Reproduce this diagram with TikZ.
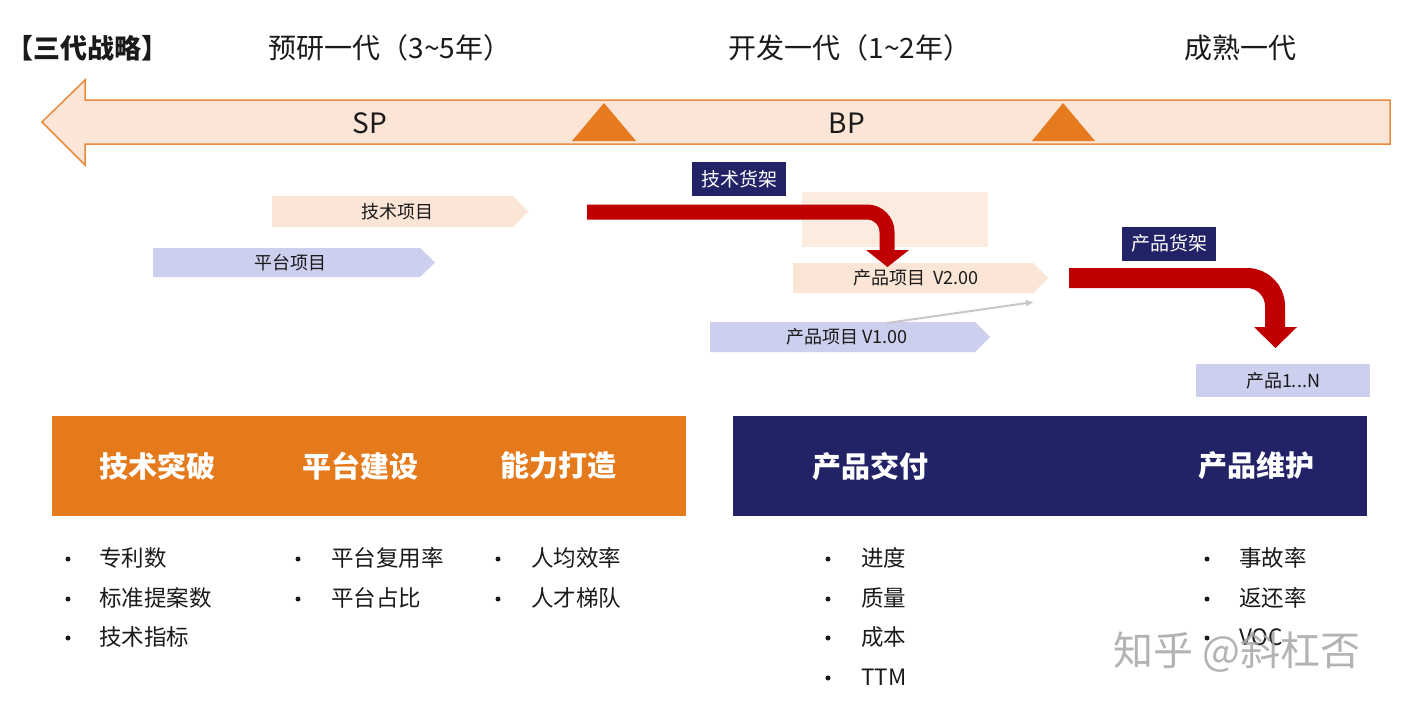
\documentclass[tikz,border=0pt]{standalone}
\usepackage{fontspec}
\setmainfont{Noto Sans CJK SC}
\usetikzlibrary{arrows.meta}
\definecolor{peach}{HTML}{FBE5D6}
\definecolor{peachlt}{HTML}{FCEBDF}
\definecolor{lav}{HTML}{CDCFEE}
\definecolor{navy}{HTML}{222266}
\definecolor{orangeband}{HTML}{E57A1C}
\definecolor{tri}{HTML}{E67A1E}
\definecolor{arrowedge}{HTML}{EA8A3C}
\definecolor{redarr}{HTML}{C00000}
\definecolor{txt}{HTML}{1A1A1A}
\newcommand{\fs}[1]{\fontsize{#1}{#1}\selectfont}
\tikzset{
  lbl/.style={inner sep=0pt, text=txt},
  toptitle/.style={lbl, font=\fs{28}},
  bigtxt/.style={lbl, font=\fs{28}},
  smalltxt/.style={lbl, font=\fs{18}},
  tagbox/.style={fill=navy, text=white, font=\fs{19}, inner xsep=9pt, inner ysep=5pt, minimum height=34pt},
  bandtxt/.style={inner sep=0pt, text=white, font=\bfseries\fs{29}},
  item/.style={lbl, anchor=west, font=\fs{22.5}},
  dot/.style={circle, fill=txt, inner sep=0pt, minimum size=5pt},
  redshaft/.style={draw=redarr, line cap=butt},
  redhead/.style={fill=redarr},
}
\begin{document}
\begin{tikzpicture}[x=1pt,y=-1pt]
\useasboundingbox (0,0) rectangle (1405,709);
\fill[white] (0,0) rectangle (1405,709);

% titles
\node[lbl, font=\bfseries\fs{27}, anchor=west] (title) at (6,48) {【三代战略】};
\node[toptitle] (g1) at (390,48) {预研一代（3\textasciitilde5年）};
\node[toptitle] (g2) at (850,48) {开发一代（1\textasciitilde2年）};
\node[toptitle] (g3) at (1240,48) {成熟一代};

% big timeline arrow
\draw[draw=arrowedge, fill=peach, line width=1.5pt, line join=miter]
  (42,122) -- (85,80) -- (85,100) -- (1390,100) -- (1390,144) -- (85,144) -- (85,165) -- cycle;
\fill[tri] (572,141) -- (636,141) -- (604,103) -- cycle;
\fill[tri] (1032,141) -- (1095,141) -- (1063,103) -- cycle;
\node[bigtxt] (sp) at (370,123) {SP};
\node[bigtxt] (bp) at (847,123) {BP};

% translucent box behind arrow
\fill[peachlt] (802,192) rectangle (988,247);

% project chevrons
\fill[peach] (272,196) -- (513,196) -- (528,211.5) -- (513,227) -- (272,227) -- cycle;
\node[smalltxt] (jsxm) at (397,211.5) {技术项目};
\fill[lav] (153,248) -- (420,248) -- (435,262.5) -- (420,277) -- (153,277) -- cycle;
\node[smalltxt] (ptxm) at (290,262.5) {平台项目};
\fill[peach] (793,263) -- (1033,263) -- (1048,278) -- (1033,293) -- (793,293) -- cycle;
\node[smalltxt] (v2) at (916,278) {产品项目\ \ V2.00};
\fill[lav] (710,322) -- (975,322) -- (990,337) -- (975,352) -- (710,352) -- cycle;
\node[smalltxt] (v1) at (847,337) {产品项目 V1.00};
\fill[lav] (1196,364) rectangle (1370,397);
\node[smalltxt] (pn) at (1283,380.5) {产品1...N};

% shelves
\node[tagbox] (jshj) at (739,179) {技术货架};
\node[tagbox] (cphj) at (1169,243.5) {产品货架};

% red arrows
\coordinate (r1s) at (587,212);
\coordinate (r1c) at (887,212);
\coordinate (r1e) at (887,251);
\draw[redshaft, line width=15pt, rounded corners=20pt] (r1s) -- (r1c) -- (r1e);
\fill[redhead] (866,250) -- (909,250) -- (887.5,267) -- cycle;

\coordinate (r2s) at (1069,278);
\coordinate (r2c) at (1275,278);
\coordinate (r2e) at (1275,329);
\draw[redshaft, line width=20pt, rounded corners=28pt] (r2s) -- (r2c) -- (r2e);
\fill[redhead] (1254,327) -- (1297,327) -- (1275.5,348) -- cycle;

% gray arrow
\coordinate (ga) at (887,323);
\coordinate (gb) at (1034,302);
\draw[draw=black!22, line width=2pt, -{Latex[length=8pt,width=7pt]}] (ga) -- (gb);

% bands
\fill[orangeband] (52,416) rectangle (686,516);
\fill[navy] (733,416) rectangle (1367,516);
\node[bandtxt] (b1) at (157,466) {技术突破};
\node[bandtxt] (b2) at (360,466) {平台建设};
\node[bandtxt] (b3) at (558,466) {能力打造};
\node[bandtxt] (b4) at (870,466) {产品交付};
\node[bandtxt] (b5) at (1256,466) {产品维护};

% bullet lists
\foreach \name/\bx/\tx/\yy/\t in {
  a1/68/99/558/专利数, a2/68/99/598/标准提案数, a3/68/99/637/技术指标,
  b1/298/331/558/平台复用率, b2/298/331/598/平台占比,
  c1/498/531/558/人均效率, c2/498/531/598/人才梯队,
  d1/828/861/558/进度, d2/828/861/598/质量, d3/828/861/637/成本, d4/828/861/677/TTM,
  e1/1207/1239/558/事故率, e2/1207/1239/598/返还率, e3/1207/1239/637/VOC}
{
  \node[dot] (dot\name) at (\bx,\yy+1) {};
  \node[item] (it\name) at (\tx,\yy) {\t};
}

% watermark
\node[inner sep=0pt, font=\fs{40}, text=black!35, opacity=0.85] (wm) at (1237,652) {知乎 @斜杠否};
\end{tikzpicture}
\end{document}
